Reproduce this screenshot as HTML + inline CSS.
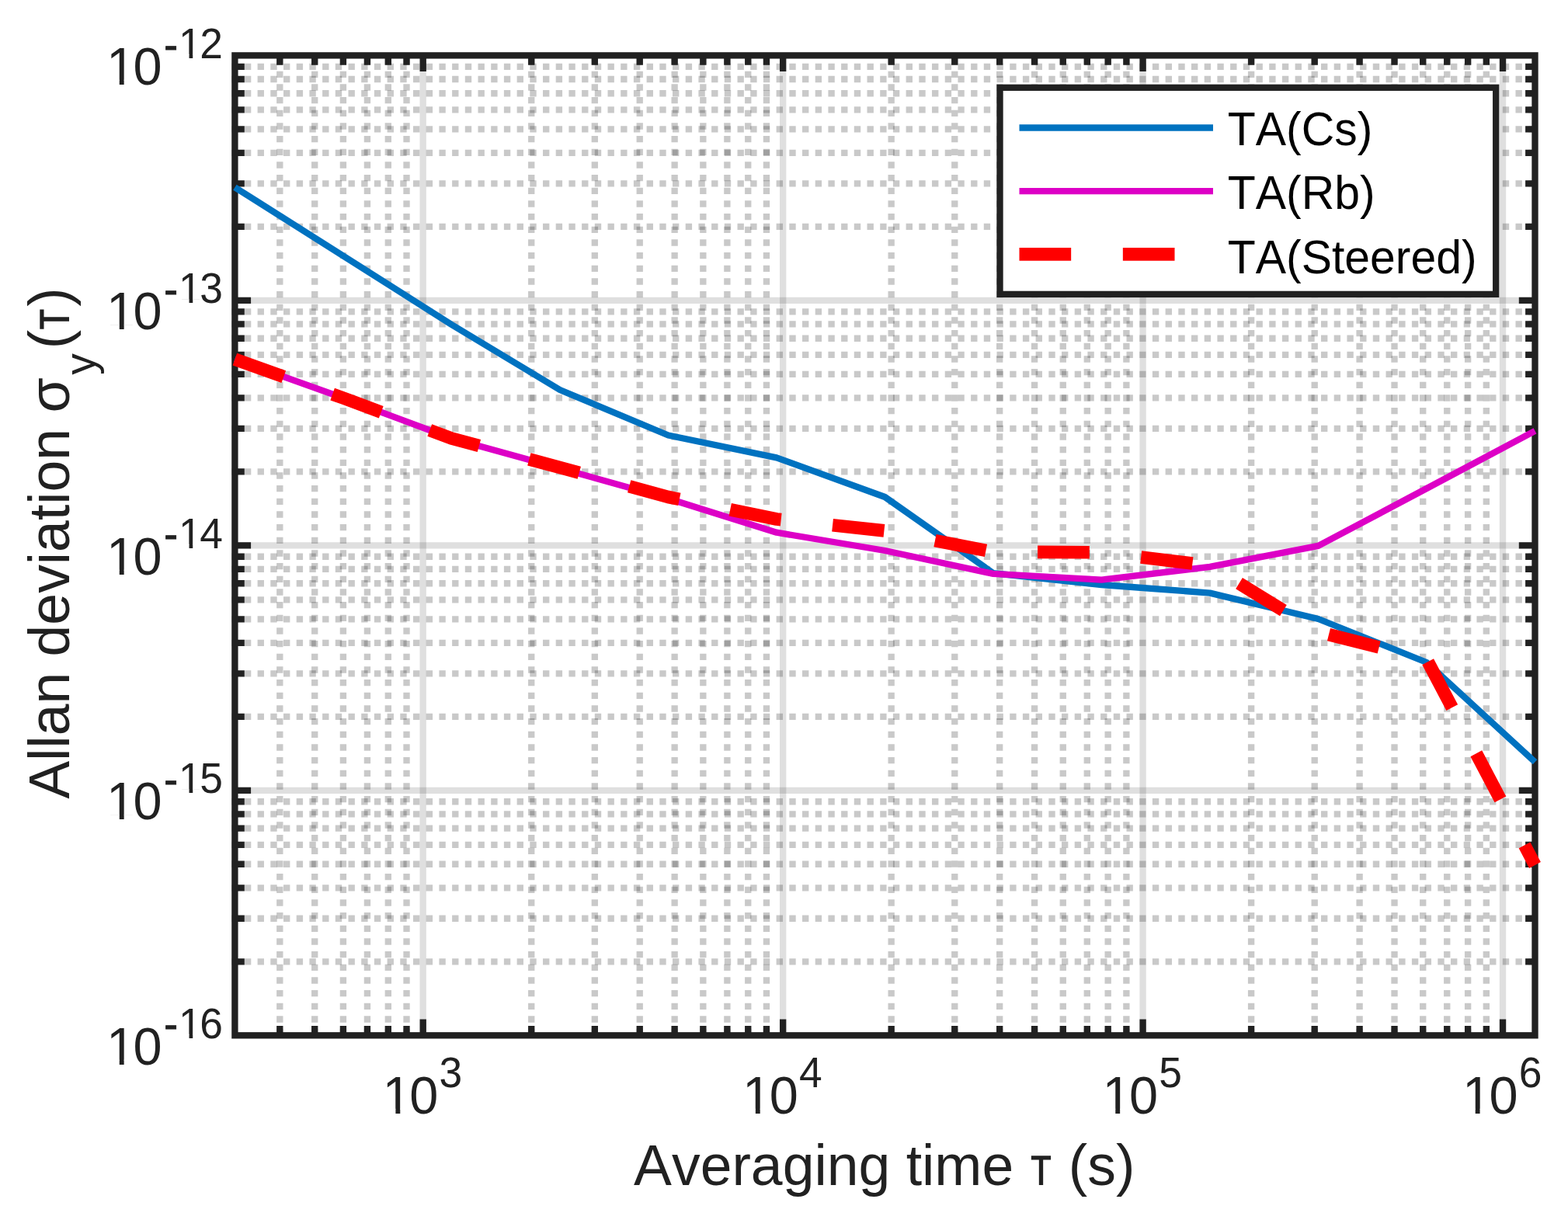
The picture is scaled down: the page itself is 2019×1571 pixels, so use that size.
<!DOCTYPE html>
<html><head><meta charset="utf-8"><title>Allan deviation</title>
<style>html,body{margin:0;padding:0;background:#fff;}svg{display:block;}text{font-kerning:none;font-feature-settings:'kern' 0;}</style></head>
<body>
<svg width="2019" height="1571" viewBox="0 0 2019 1571">
<rect width="100%" height="100%" fill="#fff"/>
<g stroke="#262626" stroke-width="8.333" fill="none">
<g stroke-opacity="0.15">
<line x1="544.72" y1="71.4" x2="544.72" y2="1333.3"/>
<line x1="1008.16" y1="71.4" x2="1008.16" y2="1333.3"/>
<line x1="1471.59" y1="71.4" x2="1471.59" y2="1333.3"/>
<line x1="1935.03" y1="71.4" x2="1935.03" y2="1333.3"/>
<line x1="302.4" y1="386.88" x2="1976.5" y2="386.88"/>
<line x1="302.4" y1="702.35" x2="1976.5" y2="702.35"/>
<line x1="302.4" y1="1017.83" x2="1976.5" y2="1017.83"/>
</g>
<g stroke-opacity="0.25">
<line x1="360.3" y1="1333.3" x2="360.3" y2="71.4" stroke-dasharray="8.333 8.333"/>
<line x1="405.21" y1="1333.3" x2="405.21" y2="71.4" stroke-dasharray="8.333 8.333"/>
<line x1="441.91" y1="1333.3" x2="441.91" y2="71.4" stroke-dasharray="8.333 8.333"/>
<line x1="472.93" y1="1333.3" x2="472.93" y2="71.4" stroke-dasharray="8.333 8.333"/>
<line x1="499.81" y1="1333.3" x2="499.81" y2="71.4" stroke-dasharray="8.333 8.333"/>
<line x1="523.52" y1="1333.3" x2="523.52" y2="71.4" stroke-dasharray="8.333 8.333"/>
<line x1="684.23" y1="1333.3" x2="684.23" y2="71.4" stroke-dasharray="8.333 8.333"/>
<line x1="765.84" y1="1333.3" x2="765.84" y2="71.4" stroke-dasharray="8.333 8.333"/>
<line x1="823.74" y1="1333.3" x2="823.74" y2="71.4" stroke-dasharray="8.333 8.333"/>
<line x1="868.65" y1="1333.3" x2="868.65" y2="71.4" stroke-dasharray="8.333 8.333"/>
<line x1="905.34" y1="1333.3" x2="905.34" y2="71.4" stroke-dasharray="8.333 8.333"/>
<line x1="936.37" y1="1333.3" x2="936.37" y2="71.4" stroke-dasharray="8.333 8.333"/>
<line x1="963.25" y1="1333.3" x2="963.25" y2="71.4" stroke-dasharray="8.333 8.333"/>
<line x1="986.95" y1="1333.3" x2="986.95" y2="71.4" stroke-dasharray="8.333 8.333"/>
<line x1="1147.67" y1="1333.3" x2="1147.67" y2="71.4" stroke-dasharray="8.333 8.333"/>
<line x1="1229.27" y1="1333.3" x2="1229.27" y2="71.4" stroke-dasharray="8.333 8.333"/>
<line x1="1287.17" y1="1333.3" x2="1287.17" y2="71.4" stroke-dasharray="8.333 8.333"/>
<line x1="1332.09" y1="1333.3" x2="1332.09" y2="71.4" stroke-dasharray="8.333 8.333"/>
<line x1="1368.78" y1="1333.3" x2="1368.78" y2="71.4" stroke-dasharray="8.333 8.333"/>
<line x1="1399.81" y1="1333.3" x2="1399.81" y2="71.4" stroke-dasharray="8.333 8.333"/>
<line x1="1426.68" y1="1333.3" x2="1426.68" y2="71.4" stroke-dasharray="8.333 8.333"/>
<line x1="1450.39" y1="1333.3" x2="1450.39" y2="71.4" stroke-dasharray="8.333 8.333"/>
<line x1="1611.1" y1="1333.3" x2="1611.1" y2="71.4" stroke-dasharray="8.333 8.333"/>
<line x1="1692.71" y1="1333.3" x2="1692.71" y2="71.4" stroke-dasharray="8.333 8.333"/>
<line x1="1750.61" y1="1333.3" x2="1750.61" y2="71.4" stroke-dasharray="8.333 8.333"/>
<line x1="1795.52" y1="1333.3" x2="1795.52" y2="71.4" stroke-dasharray="8.333 8.333"/>
<line x1="1832.22" y1="1333.3" x2="1832.22" y2="71.4" stroke-dasharray="8.333 8.333"/>
<line x1="1863.24" y1="1333.3" x2="1863.24" y2="71.4" stroke-dasharray="8.333 8.333"/>
<line x1="1890.12" y1="1333.3" x2="1890.12" y2="71.4" stroke-dasharray="8.333 8.333"/>
<line x1="1913.83" y1="1333.3" x2="1913.83" y2="71.4" stroke-dasharray="8.333 8.333"/>
<line x1="298.22" y1="1238.33" x2="1976.5" y2="1238.33" stroke-dasharray="8.35 8.35"/>
<line x1="298.22" y1="1182.78" x2="1976.5" y2="1182.78" stroke-dasharray="8.35 8.35"/>
<line x1="298.22" y1="1143.37" x2="1976.5" y2="1143.37" stroke-dasharray="8.35 8.35"/>
<line x1="298.22" y1="1112.79" x2="1976.5" y2="1112.79" stroke-dasharray="8.35 8.35"/>
<line x1="298.22" y1="1087.81" x2="1976.5" y2="1087.81" stroke-dasharray="8.35 8.35"/>
<line x1="298.22" y1="1066.69" x2="1976.5" y2="1066.69" stroke-dasharray="8.35 8.35"/>
<line x1="298.22" y1="1048.4" x2="1976.5" y2="1048.4" stroke-dasharray="8.35 8.35"/>
<line x1="298.22" y1="1032.26" x2="1976.5" y2="1032.26" stroke-dasharray="8.35 8.35"/>
<line x1="298.22" y1="922.86" x2="1976.5" y2="922.86" stroke-dasharray="8.35 8.35"/>
<line x1="298.22" y1="867.31" x2="1976.5" y2="867.31" stroke-dasharray="8.35 8.35"/>
<line x1="298.22" y1="827.89" x2="1976.5" y2="827.89" stroke-dasharray="8.35 8.35"/>
<line x1="298.22" y1="797.32" x2="1976.5" y2="797.32" stroke-dasharray="8.35 8.35"/>
<line x1="298.22" y1="772.34" x2="1976.5" y2="772.34" stroke-dasharray="8.35 8.35"/>
<line x1="298.22" y1="751.22" x2="1976.5" y2="751.22" stroke-dasharray="8.35 8.35"/>
<line x1="298.22" y1="732.92" x2="1976.5" y2="732.92" stroke-dasharray="8.35 8.35"/>
<line x1="298.22" y1="716.79" x2="1976.5" y2="716.79" stroke-dasharray="8.35 8.35"/>
<line x1="298.22" y1="607.38" x2="1976.5" y2="607.38" stroke-dasharray="8.35 8.35"/>
<line x1="298.22" y1="551.83" x2="1976.5" y2="551.83" stroke-dasharray="8.35 8.35"/>
<line x1="298.22" y1="512.42" x2="1976.5" y2="512.42" stroke-dasharray="8.35 8.35"/>
<line x1="298.22" y1="481.84" x2="1976.5" y2="481.84" stroke-dasharray="8.35 8.35"/>
<line x1="298.22" y1="456.86" x2="1976.5" y2="456.86" stroke-dasharray="8.35 8.35"/>
<line x1="298.22" y1="435.74" x2="1976.5" y2="435.74" stroke-dasharray="8.35 8.35"/>
<line x1="298.22" y1="417.45" x2="1976.5" y2="417.45" stroke-dasharray="8.35 8.35"/>
<line x1="298.22" y1="401.31" x2="1976.5" y2="401.31" stroke-dasharray="8.35 8.35"/>
<line x1="298.22" y1="291.91" x2="1976.5" y2="291.91" stroke-dasharray="8.35 8.35"/>
<line x1="298.22" y1="236.36" x2="1976.5" y2="236.36" stroke-dasharray="8.35 8.35"/>
<line x1="298.22" y1="196.94" x2="1976.5" y2="196.94" stroke-dasharray="8.35 8.35"/>
<line x1="298.22" y1="166.37" x2="1976.5" y2="166.37" stroke-dasharray="8.35 8.35"/>
<line x1="298.22" y1="141.39" x2="1976.5" y2="141.39" stroke-dasharray="8.35 8.35"/>
<line x1="298.22" y1="120.27" x2="1976.5" y2="120.27" stroke-dasharray="8.35 8.35"/>
<line x1="298.22" y1="101.97" x2="1976.5" y2="101.97" stroke-dasharray="8.35 8.35"/>
<line x1="298.22" y1="85.84" x2="1976.5" y2="85.84" stroke-dasharray="8.35 8.35"/>
</g></g>
<path d="M544.72 1333.3v-20.7M544.72 71.4v20.7M1008.16 1333.3v-20.7M1008.16 71.4v20.7M1471.59 1333.3v-20.7M1471.59 71.4v20.7M1935.03 1333.3v-20.7M1935.03 71.4v20.7M360.3 1333.3v-12.4M360.3 71.4v12.4M405.21 1333.3v-12.4M405.21 71.4v12.4M441.91 1333.3v-12.4M441.91 71.4v12.4M472.93 1333.3v-12.4M472.93 71.4v12.4M499.81 1333.3v-12.4M499.81 71.4v12.4M523.52 1333.3v-12.4M523.52 71.4v12.4M684.23 1333.3v-12.4M684.23 71.4v12.4M765.84 1333.3v-12.4M765.84 71.4v12.4M823.74 1333.3v-12.4M823.74 71.4v12.4M868.65 1333.3v-12.4M868.65 71.4v12.4M905.34 1333.3v-12.4M905.34 71.4v12.4M936.37 1333.3v-12.4M936.37 71.4v12.4M963.25 1333.3v-12.4M963.25 71.4v12.4M986.95 1333.3v-12.4M986.95 71.4v12.4M1147.67 1333.3v-12.4M1147.67 71.4v12.4M1229.27 1333.3v-12.4M1229.27 71.4v12.4M1287.17 1333.3v-12.4M1287.17 71.4v12.4M1332.09 1333.3v-12.4M1332.09 71.4v12.4M1368.78 1333.3v-12.4M1368.78 71.4v12.4M1399.81 1333.3v-12.4M1399.81 71.4v12.4M1426.68 1333.3v-12.4M1426.68 71.4v12.4M1450.39 1333.3v-12.4M1450.39 71.4v12.4M1611.1 1333.3v-12.4M1611.1 71.4v12.4M1692.71 1333.3v-12.4M1692.71 71.4v12.4M1750.61 1333.3v-12.4M1750.61 71.4v12.4M1795.52 1333.3v-12.4M1795.52 71.4v12.4M1832.22 1333.3v-12.4M1832.22 71.4v12.4M1863.24 1333.3v-12.4M1863.24 71.4v12.4M1890.12 1333.3v-12.4M1890.12 71.4v12.4M1913.83 1333.3v-12.4M1913.83 71.4v12.4M302.4 386.88h20.7M1976.5 386.88h-20.7M302.4 702.35h20.7M1976.5 702.35h-20.7M302.4 1017.83h20.7M1976.5 1017.83h-20.7M302.4 1238.33h12.4M1976.5 1238.33h-12.4M302.4 1182.78h12.4M1976.5 1182.78h-12.4M302.4 1143.37h12.4M1976.5 1143.37h-12.4M302.4 1112.79h12.4M1976.5 1112.79h-12.4M302.4 1087.81h12.4M1976.5 1087.81h-12.4M302.4 1066.69h12.4M1976.5 1066.69h-12.4M302.4 1048.4h12.4M1976.5 1048.4h-12.4M302.4 1032.26h12.4M1976.5 1032.26h-12.4M302.4 922.86h12.4M1976.5 922.86h-12.4M302.4 867.31h12.4M1976.5 867.31h-12.4M302.4 827.89h12.4M1976.5 827.89h-12.4M302.4 797.32h12.4M1976.5 797.32h-12.4M302.4 772.34h12.4M1976.5 772.34h-12.4M302.4 751.22h12.4M1976.5 751.22h-12.4M302.4 732.92h12.4M1976.5 732.92h-12.4M302.4 716.79h12.4M1976.5 716.79h-12.4M302.4 607.38h12.4M1976.5 607.38h-12.4M302.4 551.83h12.4M1976.5 551.83h-12.4M302.4 512.42h12.4M1976.5 512.42h-12.4M302.4 481.84h12.4M1976.5 481.84h-12.4M302.4 456.86h12.4M1976.5 456.86h-12.4M302.4 435.74h12.4M1976.5 435.74h-12.4M302.4 417.45h12.4M1976.5 417.45h-12.4M302.4 401.31h12.4M1976.5 401.31h-12.4M302.4 291.91h12.4M1976.5 291.91h-12.4M302.4 236.36h12.4M1976.5 236.36h-12.4M302.4 196.94h12.4M1976.5 196.94h-12.4M302.4 166.37h12.4M1976.5 166.37h-12.4M302.4 141.39h12.4M1976.5 141.39h-12.4M302.4 120.27h12.4M1976.5 120.27h-12.4M302.4 101.97h12.4M1976.5 101.97h-12.4M302.4 85.84h12.4M1976.5 85.84h-12.4" stroke="#212121" stroke-width="8.333" fill="none"/>
<rect x="302.4" y="71.4" width="1674.1" height="1261.9" stroke="#212121" stroke-width="8.333" fill="none" stroke-linejoin="miter"/>
<g font-family="Liberation Sans, Arial, sans-serif" fill="#212121">
<g transform="translate(134.5 109) scale(1 1.04)"><text font-size="66.67"><tspan x="2.5">1</tspan><tspan x="37.08">0</tspan></text><text y="-32.69" font-size="53.33"><tspan x="76.76" y="-31.25" stroke="#212121" stroke-width="0.9">-</tspan><tspan x="95.62" y="-32.69">1</tspan><tspan x="122.78" y="-32.69">2</tspan></text><g fill="#fff"><rect x="6.38" y="-5.98" width="12.89" height="7.48"/><rect x="25.16" y="-5.98" width="12.37" height="7.48"/><g transform="translate(0 -32.69)"><rect x="98.48" y="-4.98" width="10.55" height="6.48"/><rect x="113.74" y="-4.98" width="10.13" height="6.48"/></g></g></g>
<g transform="translate(134.5 424.48) scale(1 1.04)"><text font-size="66.67"><tspan x="2.5">1</tspan><tspan x="37.08">0</tspan></text><text y="-32.69" font-size="53.33"><tspan x="76.76" y="-31.25" stroke="#212121" stroke-width="0.9">-</tspan><tspan x="95.62" y="-32.69">1</tspan><tspan x="122.78" y="-32.69">3</tspan></text><g fill="#fff"><rect x="6.38" y="-5.98" width="12.89" height="7.48"/><rect x="25.16" y="-5.98" width="12.37" height="7.48"/><g transform="translate(0 -32.69)"><rect x="98.48" y="-4.98" width="10.55" height="6.48"/><rect x="113.74" y="-4.98" width="10.13" height="6.48"/></g></g></g>
<g transform="translate(134.5 739.95) scale(1 1.04)"><text font-size="66.67"><tspan x="2.5">1</tspan><tspan x="37.08">0</tspan></text><text y="-32.69" font-size="53.33"><tspan x="76.76" y="-31.25" stroke="#212121" stroke-width="0.9">-</tspan><tspan x="95.62" y="-32.69">1</tspan><tspan x="122.78" y="-32.69">4</tspan></text><g fill="#fff"><rect x="6.38" y="-5.98" width="12.89" height="7.48"/><rect x="25.16" y="-5.98" width="12.37" height="7.48"/><g transform="translate(0 -32.69)"><rect x="98.48" y="-4.98" width="10.55" height="6.48"/><rect x="113.74" y="-4.98" width="10.13" height="6.48"/></g></g></g>
<g transform="translate(134.5 1055.42) scale(1 1.04)"><text font-size="66.67"><tspan x="2.5">1</tspan><tspan x="37.08">0</tspan></text><text y="-32.69" font-size="53.33"><tspan x="76.76" y="-31.25" stroke="#212121" stroke-width="0.9">-</tspan><tspan x="95.62" y="-32.69">1</tspan><tspan x="122.78" y="-32.69">5</tspan></text><g fill="#fff"><rect x="6.38" y="-5.98" width="12.89" height="7.48"/><rect x="25.16" y="-5.98" width="12.37" height="7.48"/><g transform="translate(0 -32.69)"><rect x="98.48" y="-4.98" width="10.55" height="6.48"/><rect x="113.74" y="-4.98" width="10.13" height="6.48"/></g></g></g>
<g transform="translate(134.5 1370.9) scale(1 1.04)"><text font-size="66.67"><tspan x="2.5">1</tspan><tspan x="37.08">0</tspan></text><text y="-32.69" font-size="53.33"><tspan x="76.76" y="-31.25" stroke="#212121" stroke-width="0.9">-</tspan><tspan x="95.62" y="-32.69">1</tspan><tspan x="122.78" y="-32.69">6</tspan></text><g fill="#fff"><rect x="6.38" y="-5.98" width="12.89" height="7.48"/><rect x="25.16" y="-5.98" width="12.37" height="7.48"/><g transform="translate(0 -32.69)"><rect x="98.48" y="-4.98" width="10.55" height="6.48"/><rect x="113.74" y="-4.98" width="10.13" height="6.48"/></g></g></g>
<g transform="translate(490.12 1434) scale(1 1.04)"><text font-size="66.67"><tspan x="2.5">1</tspan><tspan x="37.08">0</tspan></text><text y="-32.69" font-size="53.33"><tspan x="75.36" y="-32.69">3</tspan></text><g fill="#fff"><rect x="6.38" y="-5.98" width="12.89" height="7.48"/><rect x="25.16" y="-5.98" width="12.37" height="7.48"/></g></g>
<g transform="translate(953.56 1434) scale(1 1.04)"><text font-size="66.67"><tspan x="2.5">1</tspan><tspan x="37.08">0</tspan></text><text y="-32.69" font-size="53.33"><tspan x="75.36" y="-32.69">4</tspan></text><g fill="#fff"><rect x="6.38" y="-5.98" width="12.89" height="7.48"/><rect x="25.16" y="-5.98" width="12.37" height="7.48"/></g></g>
<g transform="translate(1416.99 1434) scale(1 1.04)"><text font-size="66.67"><tspan x="2.5">1</tspan><tspan x="37.08">0</tspan></text><text y="-32.69" font-size="53.33"><tspan x="75.36" y="-32.69">5</tspan></text><g fill="#fff"><rect x="6.38" y="-5.98" width="12.89" height="7.48"/><rect x="25.16" y="-5.98" width="12.37" height="7.48"/></g></g>
<g transform="translate(1880.43 1434) scale(1 1.04)"><text font-size="66.67"><tspan x="2.5">1</tspan><tspan x="37.08">0</tspan></text><text y="-32.69" font-size="53.33"><tspan x="75.36" y="-32.69">6</tspan></text><g fill="#fff"><rect x="6.38" y="-5.98" width="12.89" height="7.48"/><rect x="25.16" y="-5.98" width="12.37" height="7.48"/></g></g>
</g>
<g font-family="Liberation Sans, Arial, sans-serif" fill="#212121" font-size="73.33">
<text transform="translate(0 1526.4)"><tspan x="816.1">Averaging time</tspan> <tspan x="1327.17" font-family="WenQuanYi Zen Hei, Liberation Sans, sans-serif" font-size="75.1" textLength="26.51" lengthAdjust="spacingAndGlyphs">τ</tspan> <tspan x="1375.87">(s)</tspan></text>
<text transform="translate(88.9 1028.85) rotate(-90)"><tspan x="0" y="0">Allan deviation σ</tspan><tspan x="546.2" y="33.5" font-size="55">y</tspan><tspan x="579.6" y="0">(</tspan><tspan x="604.62" font-family="WenQuanYi Zen Hei, Liberation Sans, sans-serif" font-size="75.1" textLength="26.51" lengthAdjust="spacingAndGlyphs">τ</tspan><tspan x="634.1" y="0">)</tspan></text>
</g>
<polyline points="302.4,241.2 441.91,329.4 581.42,418 720.92,502 860.43,560.5 999.94,589.3 1139.45,640 1278.96,738.1 1418.47,753 1557.97,763.6 1697.48,797 1836.99,853 1976.5,981.2" fill="none" stroke="#0072C0" stroke-width="8.333" stroke-linejoin="round"/>
<polyline points="302.4,462.7 441.91,512.5 581.42,564.5 720.92,603 860.43,642 999.94,685.7 1139.45,709 1278.96,738.9 1418.47,746.6 1557.97,729.9 1697.48,702.9 1836.99,629 1976.5,554.9" fill="none" stroke="#DD00C6" stroke-width="8.333" stroke-linejoin="round"/>
<polyline points="302.4,462.7 441.91,512.5 581.42,564.5 720.92,602 860.43,640 999.94,668.5 1139.45,683.5 1278.96,710.7 1418.47,711.3 1557.97,728.2 1697.48,813.7 1836.99,849 1976.5,1114" fill="none" stroke="#FF0000" stroke-width="16.7" stroke-dasharray="66.75 66.75" stroke-linejoin="round"/>
<rect x="1287.5" y="112.8" width="638.7" height="266.1" fill="#fff" stroke="#212121" stroke-width="8.333"/>
<line x1="1312.5" y1="164.5" x2="1562" y2="164.5" stroke="#0072C0" stroke-width="8.333"/>
<line x1="1312.5" y1="246.2" x2="1562" y2="246.2" stroke="#DD00C6" stroke-width="8.333"/>
<line x1="1312.5" y1="327.3" x2="1562" y2="327.3" stroke="#FF0000" stroke-width="16.667" stroke-dasharray="66.67 66.67"/>
<g font-family="Liberation Sans, Arial, sans-serif" fill="#000" font-size="58.9">
<text transform="translate(1580.8 187.0) scale(1 1.03)">TA(Cs)</text>
<text transform="translate(1580.8 269.2) scale(1 1.03)">TA(Rb)</text>
<text transform="translate(1580.8 351.5) scale(1 1.03)">TA(Steered)</text>
</g>
</svg>
</body></html>
